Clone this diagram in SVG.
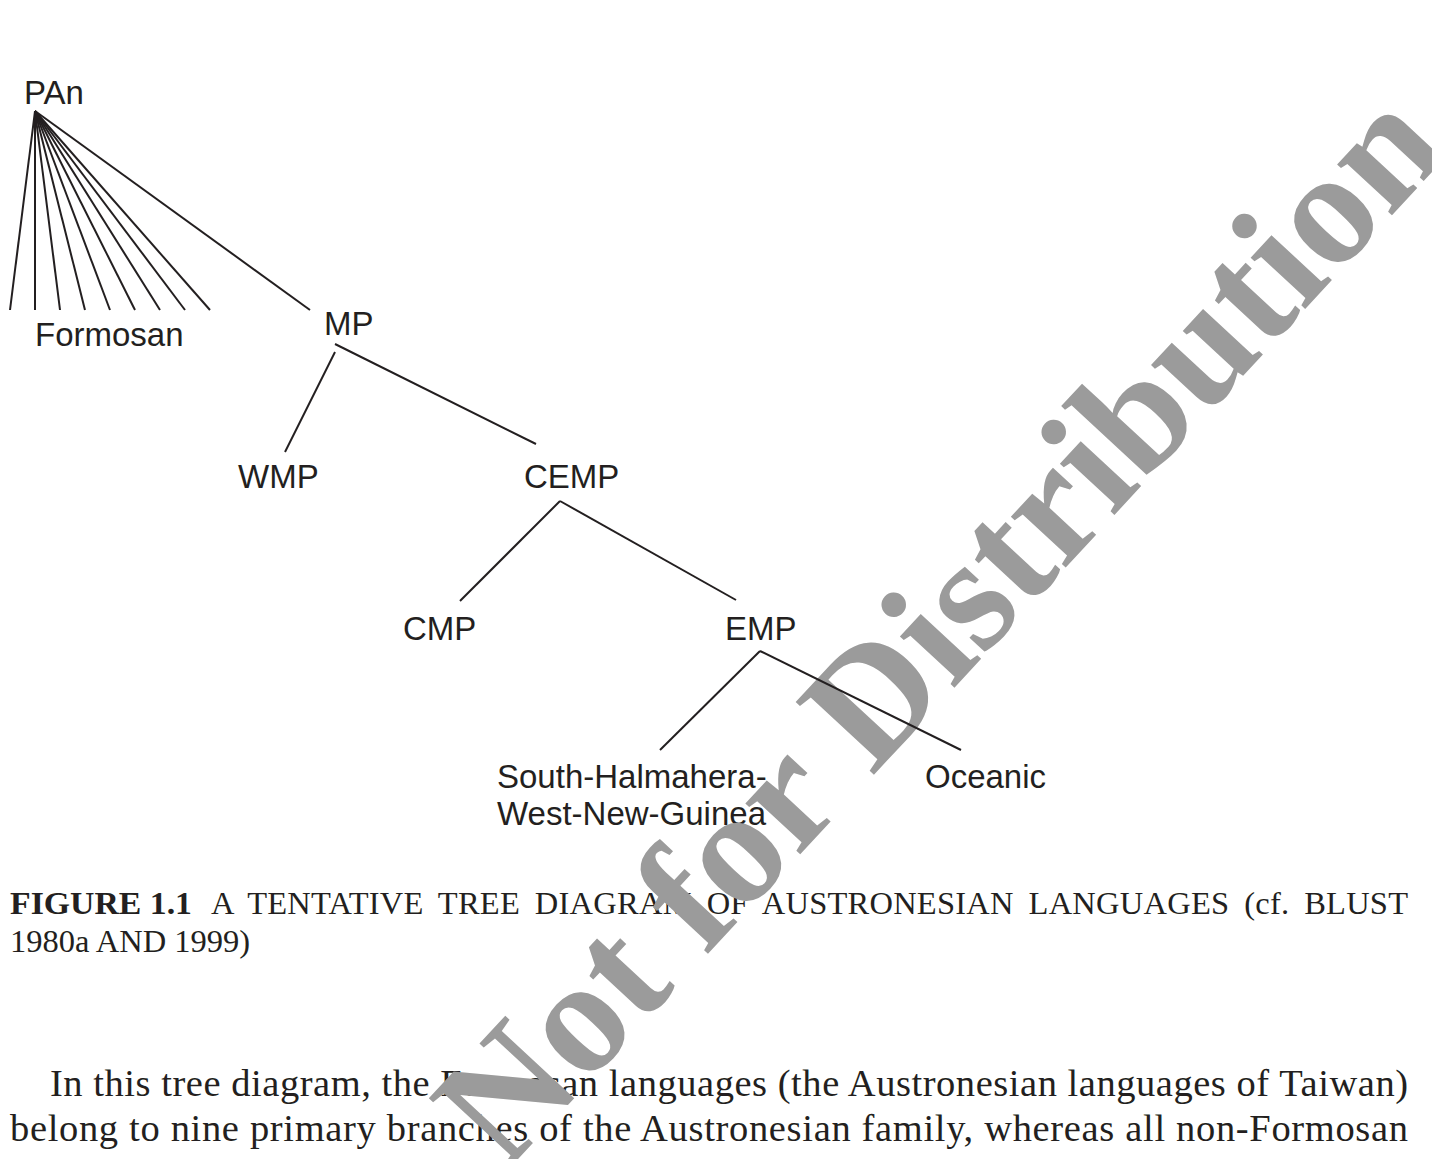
<svg xmlns="http://www.w3.org/2000/svg" width="1432" height="1159" viewBox="0 0 1432 1159">
<style>
.lbl{font-family:"Liberation Sans",Arial,sans-serif;font-size:33px;fill:#231f20}
.cap{font-family:"Liberation Serif","Times New Roman",serif;font-size:32.5px;fill:#231f20}
.body{font-family:"Liberation Serif","Times New Roman",serif;font-size:38.5px;fill:#231f20}
.edge{stroke:#231f20;stroke-width:2;fill:none;stroke-linecap:butt}
.wm{font-family:"Liberation Serif","Times New Roman",serif;font-weight:bold;font-size:163px;fill:#9b9b9b}
</style>
<rect width="1432" height="1159" fill="#ffffff"/>
<g id="node-pan"><text class="lbl" x="24" y="104">PAn</text></g>
<g id="node-formosan"><text class="lbl" x="35" y="346">Formosan</text></g>
<g id="node-mp"><text class="lbl" x="324" y="335">MP</text></g>
<g id="node-wmp"><text class="lbl" x="238" y="488">WMP</text></g>
<g id="node-cemp"><text class="lbl" x="524" y="488">CEMP</text></g>
<g id="node-cmp"><text class="lbl" x="403" y="640">CMP</text></g>
<g id="node-emp"><text class="lbl" x="725" y="640">EMP</text></g>
<g id="node-shwng"><text class="lbl" x="497" y="788">South-Halmahera-</text><text class="lbl" x="497" y="825">West-New-Guinea</text></g>
<g id="node-oceanic"><text class="lbl" x="925" y="788">Oceanic</text></g>
<g id="caption">
<text class="cap" x="10" y="914" font-weight="bold" textLength="182" lengthAdjust="spacingAndGlyphs">FIGURE 1.1</text>
<text class="cap" x="211" y="914" word-spacing="6.5" textLength="1197" lengthAdjust="spacing">A TENTATIVE TREE DIAGRAM OF AUSTRONESIAN LANGUAGES (cf. BLUST</text>
<text class="cap" x="10" y="952">1980a AND 1999)</text>
</g>
<g id="bodytext">
<text class="body" x="50" y="1096" textLength="1358" lengthAdjust="spacing">In this tree diagram, the Formosan languages (the Austronesian languages of Taiwan)</text>
<text class="body" x="10" y="1141" textLength="1398" lengthAdjust="spacing">belong to nine primary branches of the Austronesian family, whereas all non-Formosan</text>
</g>
<g id="watermark"><text class="wm" transform="translate(505 1173) rotate(-47.2)">Not for Distribution</text></g>
<g id="connectors" class="edge">
<line x1="35" y1="111" x2="10" y2="310"/>
<line x1="35" y1="111" x2="35" y2="310"/>
<line x1="35" y1="111" x2="60" y2="310"/>
<line x1="35" y1="111" x2="85" y2="310"/>
<line x1="35" y1="111" x2="110" y2="310"/>
<line x1="35" y1="111" x2="135" y2="310"/>
<line x1="35" y1="111" x2="160" y2="310"/>
<line x1="35" y1="111" x2="185" y2="310"/>
<line x1="35" y1="111" x2="210" y2="310"/>
<line x1="35" y1="111" x2="310" y2="310"/>
<line x1="335" y1="352" x2="285" y2="452"/>
<line x1="335" y1="344" x2="536" y2="444"/>
<line x1="560" y1="501" x2="460" y2="601"/>
<line x1="560" y1="501" x2="736" y2="600"/>
<line x1="760" y1="651" x2="660" y2="750"/>
<line x1="760" y1="651" x2="961" y2="750"/>
</g>
</svg>
